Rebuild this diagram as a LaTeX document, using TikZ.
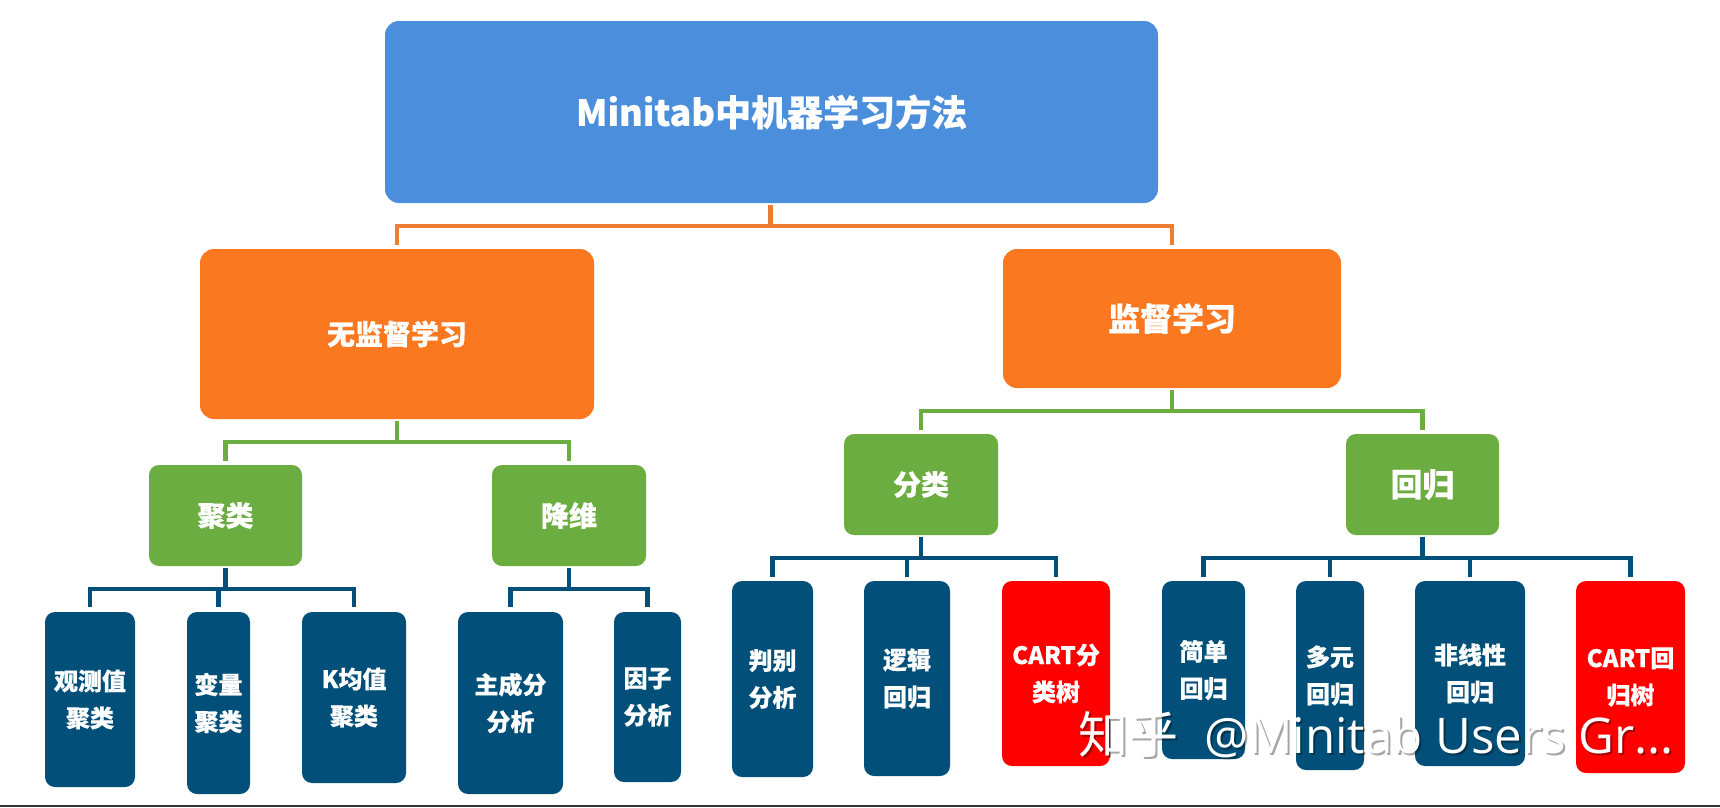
\documentclass[tikz,border=0pt]{standalone}
\usepackage{fontspec}
\setmainfont{Noto Sans CJK SC}[BoldFeatures={FakeBold=0.5}]
\newfontfamily\wmcjk{Noto Sans CJK SC}
\newfontfamily\wmlat{Open Sans}
\definecolor{rootblue}{HTML}{4B8EDC}
\definecolor{boxorange}{HTML}{F97820}
\definecolor{boxgreen}{HTML}{6CAD41}
\definecolor{boxnavy}{HTML}{02507A}
\definecolor{lineorange}{HTML}{ED7D31}
\tikzset{
  x=1pt,y=-1pt,
  box/.style={rounded corners=#1,inner sep=0pt,align=center,text=white},
  box/.default=10pt,
  rootbox/.style={box=14pt,fill=rootblue,font=\fontsize{36}{43}\selectfont\bfseries},
  midbox/.style={box=14pt,fill=boxorange},
  greenbox/.style={box=10pt,fill=boxgreen,font=\fontsize{28}{34}\selectfont\bfseries},
  leafbox/.style={box=10pt,fill=boxnavy,font=\fontsize{24}{37}\selectfont\bfseries},
  redbox/.style={box=10pt,fill=red,font=\fontsize{24}{37}\selectfont\bfseries},
  conn/.style={line width=4.4pt,line cap=butt,line join=miter},
  oconn/.style={conn,draw=lineorange},
  gconn/.style={conn,draw=boxgreen},
  nconn/.style={conn,draw=boxnavy},
  wm/.style={inner sep=0pt,anchor=west,font=\fontsize{50}{60}\selectfont},
}
% name, style, x1, y1, x2, y2, text
\newcommand{\bx}[7]{%
  \pgfmathsetmacro{\bw}{#5-#3}\pgfmathsetmacro{\bh}{#6-#4}%
  \pgfmathsetmacro{\cxx}{(#3+#5)/2}\pgfmathsetmacro{\cyy}{(#4+#6)/2}%
  \node[#2,minimum width=\bw pt,minimum height=\bh pt] (#1) at (\cxx,\cyy) {#7};}
\begin{document}
\begin{tikzpicture}
\useasboundingbox (0,0) rectangle (1720,807);
\fill[white] (0,0) rectangle (1720,807);
\fill[black!80] (0,805) rectangle (1720,807);

\bx{root}{rootbox}{385}{21}{1158}{203}{\raisebox{1pt}{Minitab中机器学习方法}}
\bx{unsup}{midbox,font=\fontsize{28}{34}\selectfont\bfseries}{200}{249}{594}{419}{无监督学习}
\bx{sup}{midbox,font=\fontsize{32}{38}\selectfont\bfseries}{1003}{249}{1341}{388}{监督学习}

\bx{clu}{greenbox}{149}{465}{302}{566}{聚类}
\bx{dim}{greenbox}{492}{465}{646}{566}{降维}
\bx{cls}{greenbox}{844}{434}{998}{535}{分类}
\bx{reg}{greenbox,font=\fontsize{32}{38}\selectfont\bfseries}{1346}{434}{1499}{535}{回归}

\bx{a1}{leafbox}{45}{612}{135}{787}{观测值\\聚类}
\bx{a2}{leafbox}{187}{612}{250}{794}{变量\\聚类}
\bx{a3}{leafbox}{302}{612}{406}{783}{K均值\\聚类}
\bx{b1}{leafbox}{458}{612}{563}{794}{主成分\\分析}
\bx{b2}{leafbox}{614}{612}{681}{782}{因子\\分析}
\bx{c1}{leafbox}{732}{581}{813}{777}{判别\\分析}
\bx{c2}{leafbox}{864}{581}{950}{776}{逻辑\\回归}
\bx{c3}{redbox}{1002}{581}{1110}{766}{CART分\\类树}
\bx{d1}{leafbox}{1162}{581}{1245}{759}{简单\\回归}
\bx{d2}{leafbox}{1296}{581}{1364}{770}{多元\\回归}
\bx{d3}{leafbox}{1415}{581}{1525}{766}{非线性\\回归}
\bx{d4}{redbox}{1576}{581}{1685}{773}{CART回\\归树}

% buses
\coordinate (busroot) at ([xshift=-1pt]root.south |- 0,226);
\coordinate (busunsup) at (unsup.south |- 0,442);
\coordinate (bussup) at (sup.south |- 0,411);
\coordinate (busclu) at (clu.south |- 0,589);
\coordinate (busdim) at (dim.south |- 0,589);
\coordinate (buscls) at (cls.south |- 0,558);
\coordinate (busreg) at (reg.south |- 0,558);

\draw[oconn] ([xshift=-1pt,yshift=-2pt]root.south) -- (busroot);
\draw[oconn] ([yshift=4pt]unsup.north) |- (busroot) -| ([yshift=4pt]sup.north);

\draw[gconn] ([yshift=-2pt]unsup.south) -- (busunsup);
\draw[gconn] ([yshift=4pt]clu.north) |- (busunsup) -| ([yshift=4pt]dim.north);
\draw[gconn] ([yshift=-2pt]sup.south) -- (bussup);
\draw[gconn] ([yshift=4pt]cls.north) |- (bussup) -| ([yshift=4pt]reg.north);

\draw[nconn] ([yshift=-2pt]clu.south) -- (busclu);
\draw[nconn] ([yshift=5pt]a1.north) |- (busclu) -| ([yshift=5pt]a3.north);
\draw[nconn] ([yshift=5pt]a2.north) -- (a2.north |- busclu);
\draw[nconn] ([yshift=-2pt]dim.south) -- (busdim);
\draw[nconn] ([yshift=5pt]b1.north) |- (busdim) -| ([yshift=5pt]b2.north);

\draw[nconn] ([yshift=-2pt]cls.south) -- (buscls);
\draw[nconn] ([yshift=4pt]c1.north) |- (buscls) -| ([yshift=4pt]c3.north);
\draw[nconn] ([yshift=4pt]c2.north) -- (c2.north |- buscls);
\draw[nconn] ([yshift=-2pt]reg.south) -- (busreg);
\draw[nconn] ([yshift=4pt]d1.north) |- (busreg) -| ([yshift=4pt]d4.north);
\draw[nconn] ([yshift=4pt]d2.north) -- (d2.north |- busreg);
\draw[nconn] ([yshift=4pt]d3.north) -- (d3.north |- busreg);

% watermark
\node[wm,text=black,opacity=.35] (wmshadow) at (1080,737) {{\wmcjk 知乎}\hspace{26pt}{\wmlat\fontsize{49.2}{60}\selectfont @Minitab Users Gr...}};
\node[wm,text=white] (wmark) at (1078,735) {{\wmcjk 知乎}\hspace{26pt}{\wmlat\fontsize{49.2}{60}\selectfont @Minitab Users Gr...}};
\end{tikzpicture}
\end{document}
